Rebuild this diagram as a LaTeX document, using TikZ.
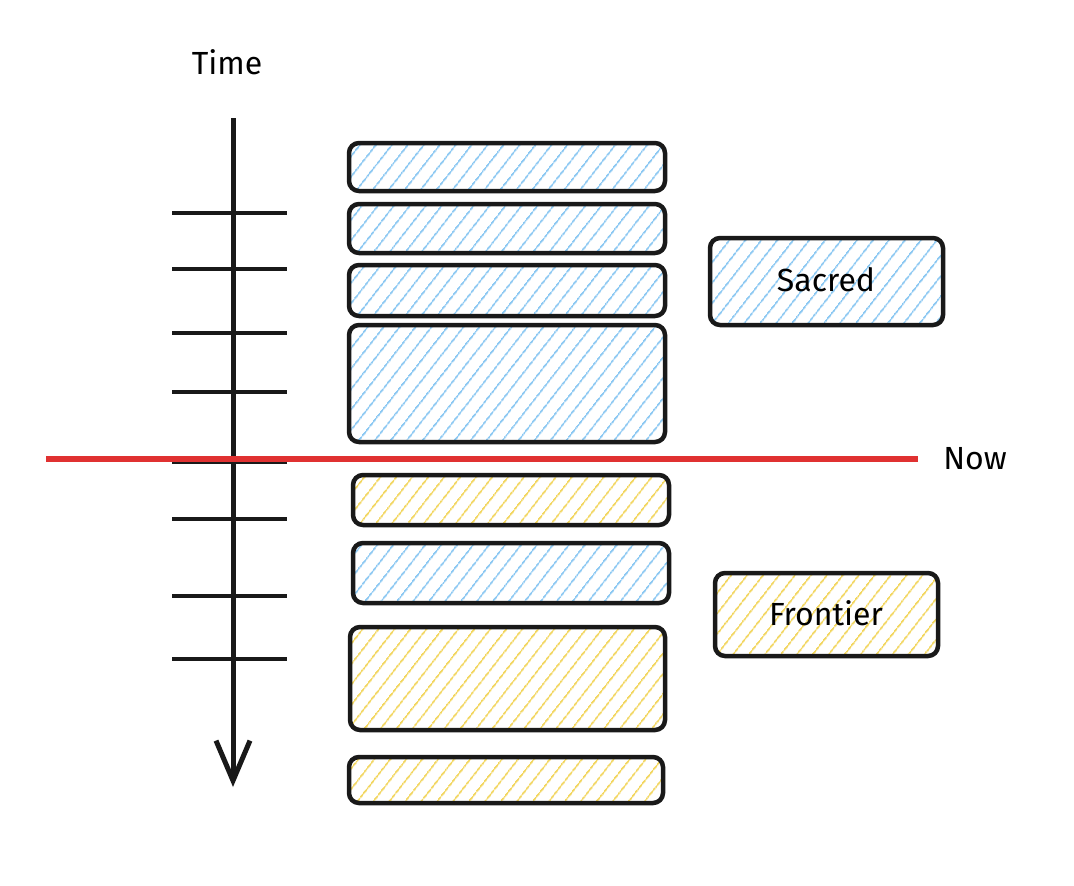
\documentclass[tikz,border=0pt]{standalone}
\usepackage{fontspec}
\setmainfont{Fira Sans}
\usetikzlibrary{patterns.meta,arrows.meta}
\definecolor{hblue}{HTML}{8CC8F2}
\definecolor{hyel}{HTML}{F2D660}
\definecolor{nowred}{HTML}{E03131}
\tikzset{
 blk/.style={draw=black!90,line width=4.5pt,rounded corners=10pt},
 bl/.style={blk,pattern={Lines[angle=52,distance=13pt,line width=2pt]},pattern color=hblue},
 ye/.style={blk,pattern={Lines[angle=52,distance=13pt,line width=2pt]},pattern color=hyel},
 tick/.style={line width=4.5pt,black!90},
 lbl/.style={font=\fontsize{32}{34}\selectfont}
}
\begin{document}
\begin{tikzpicture}[x=1pt,y=-1pt]
\useasboundingbox (0,0) rectangle (1074,886);
\draw[bl] (349,143) rectangle (665,191);
\draw[bl] (349,204) rectangle (665,253);
\draw[bl] (349,265) rectangle (665,316);
\draw[bl] (349,325) rectangle (665,442);
\draw[ye] (353,475) rectangle (669,525);
\draw[bl] (353,543) rectangle (669,603);
\draw[ye] (350,627) rectangle (665,730);
\draw[ye] (349,757) rectangle (663,803);
\draw[bl] (710,238) rectangle (943,325);
\node[lbl] (sac) at (826,280) {Sacred};
\draw[ye] (715,573) rectangle (938,656);
\node[lbl] (fro) at (826,613) {Frontier};
\coordinate (top) at (233,118);
\coordinate (bot) at (233,787);
\draw[line width=5pt,black!90,-{Straight Barb[length=40pt,width=34pt,line width=5pt]}] (top) -- (bot);
\foreach \y in {213,269,333,392,462,519,596,659}
  \draw[tick] (172,\y) -- (287,\y);
\coordinate (nl) at (46,459);
\coordinate (nr) at (918,459);
\draw[nowred,line width=6pt] (nl) -- (nr);
\node[lbl] (now) at (975,459) {Now};
\node[lbl] (time) at (227,62) {Time};
\end{tikzpicture}
\end{document}
